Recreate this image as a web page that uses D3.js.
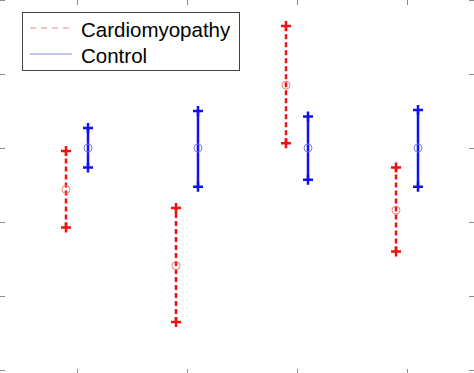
<!DOCTYPE html>
<html>
<head>
<meta charset="utf-8">
<script src="https://cdn.jsdelivr.net/npm/d3@7"></script>
<style>
  html, body { margin: 0; padding: 0; background: #fff; }
  svg { display: block; }
</style>
</head>
<body>
<svg id="chart" width="474" height="373"></svg>
<script>
// ---- data ----
const groups = [1, 2, 3, 4];
const cardioMean = [0.888, 0.682, 1.170, 0.832];
const cardioLow  = [0.785, 0.530, 1.013, 0.720];
const cardioHigh = [0.992, 0.838, 1.330, 0.947];
const controlMean = [1.0, 1.0, 1.0, 1.0];
const controlLow  = [0.947, 0.895, 0.914, 0.895];
const controlHigh = [1.054, 1.100, 1.085, 1.103];
const xTicks = [1, 2, 3, 4];
const yTicks = [0.4, 0.6, 0.8, 1.0, 1.2, 1.4];
const seriesNames = ["Cardiomyopathy", "Control"];

// ---- layout ----
(function () {
const svg = d3.select("#chart");
const x = d3.scaleLinear().domain([0.3, 4.6]).range([0, 473]);
const y = d3.scaleLinear().domain([0.4, 1.4]).range([370, 0]);
const boxL = -1, boxR = 475, boxT = -1, boxB = 374;
const tickLen = 5;
const tickColor = "#8a8a8a";

// axes box (mostly outside view, as in cropped reference)
svg.append("rect").attr("x", boxL).attr("y", boxT)
  .attr("width", boxR - boxL).attr("height", boxB - boxT)
  .attr("fill", "none").attr("stroke", tickColor);

const axB = d3.axisBottom(x).tickValues(xTicks).tickSize(-tickLen).tickFormat("");
const axT = d3.axisTop(x).tickValues(xTicks).tickSize(-tickLen).tickFormat("");
const axL = d3.axisLeft(y).tickValues(yTicks).tickSize(-tickLen).tickFormat("");
const axR = d3.axisRight(y).tickValues(yTicks).tickSize(-tickLen).tickFormat("");
function styleAxis(g) {
  g.select(".domain").remove();
  g.selectAll(".tick line").attr("stroke", tickColor).attr("stroke-width", 1);
}
svg.append("g").attr("transform", `translate(0,${boxB})`).call(axB).call(styleAxis);
svg.append("g").attr("transform", `translate(0,${boxT + 1})`).call(axT).call(styleAxis);
svg.append("g").attr("transform", `translate(${boxL + 1},0)`).call(axL).call(styleAxis);
svg.append("g").attr("transform", `translate(${boxR - 1},0)`).call(axR).call(styleAxis);

// ---- error bars ----
const series = [
  { name: seriesNames[0], mean: cardioMean, low: cardioLow, high: cardioHigh, off: -0.1,
    color: "#f01010", circ: "#f07a7a", dash: "5,3" },
  { name: seriesNames[1], mean: controlMean, low: controlLow, high: controlHigh, off: 0.1,
    color: "#1010f0", circ: "#7a7af0", dash: null }
];
const plus = 5;
series.forEach(s => {
  const g = svg.append("g");
  groups.forEach((gv, i) => {
    const cx = x(gv + s.off);
    g.append("line").attr("x1", cx).attr("x2", cx)
      .attr("y1", y(s.low[i])).attr("y2", y(s.high[i]))
      .attr("stroke", s.color).attr("stroke-width", 2.5)
      .attr("stroke-dasharray", s.dash);
    [s.low[i], s.high[i]].forEach(v => {
      const cy = y(v);
      g.append("path")
        .attr("d", `M${cx - plus},${cy}H${cx + plus}M${cx},${cy - plus}V${cy + plus}`)
        .attr("stroke", s.color).attr("stroke-width", 2.5).attr("fill", "none");
    });
    g.append("circle").attr("cx", cx).attr("cy", y(s.mean[i])).attr("r", 4)
      .attr("fill", "none").attr("stroke", s.circ).attr("stroke-width", 1);
  });
});

// ---- legend ----
const lg = svg.append("g");
lg.append("rect").attr("x", 22.5).attr("y", 12.5).attr("width", 217).attr("height", 58)
  .attr("fill", "#fff").attr("stroke", "#444").attr("stroke-width", 1);
const legendRows = [
  { y: 28, color: "#e88a8a", dash: "6,5", text: seriesNames[0], ty: 36.5 },
  { y: 54, color: "#8a8ae8", dash: null, text: seriesNames[1], ty: 62.5 }
];
legendRows.forEach(r => {
  lg.append("line").attr("x1", 30).attr("x2", 72).attr("y1", r.y).attr("y2", r.y)
    .attr("stroke", r.color).attr("stroke-width", 1).attr("stroke-dasharray", r.dash);
  lg.append("text").attr("x", 81).attr("y", r.ty).text(r.text)
    .attr("font-family", "Liberation Sans, Arial, sans-serif")
    .attr("font-size", 20.5).attr("fill", "#000");
});
})();
</script>
</body>
</html>
